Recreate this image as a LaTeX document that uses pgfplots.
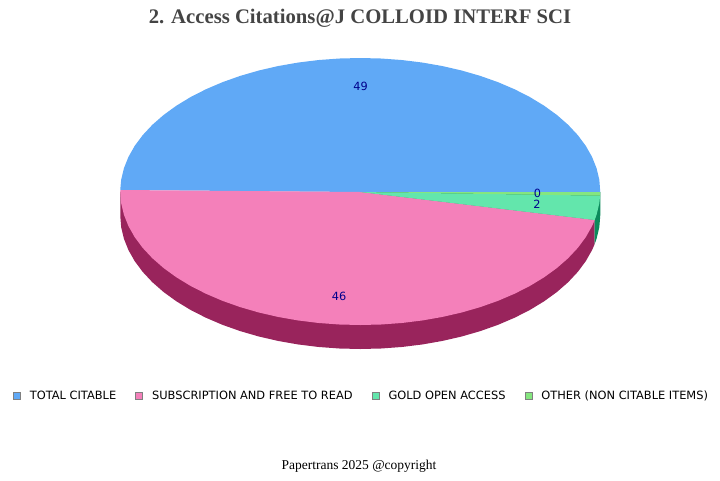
\documentclass[border=0pt]{standalone}
\usepackage{pgfplots}
\pgfplotsset{compat=1.18}
\usepackage{fontspec}
\setmainfont{DejaVu Sans}
\newfontfamily\serifx{Liberation Serif}
\definecolor{cblue}{HTML}{60A9F6}
\definecolor{cpink}{HTML}{F480BA}
\definecolor{cgreen}{HTML}{63E6AC}
\definecolor{clight}{HTML}{85E67F}
\definecolor{dpink}{HTML}{99245C}
\definecolor{dgreen}{HTML}{0C8A5C}
\definecolor{ctitle}{HTML}{444444}
\begin{document}
\begin{tikzpicture}[x=1pt,y=1pt]
\useasboundingbox (0,0) rectangle (720,480);
\begin{axis}[
  at={(0,0)},anchor=south west,
  width=720pt,height=480pt,scale only axis,
  xmin=0,xmax=720,ymin=0,ymax=480,y dir=reverse,
  axis lines=none,clip=false,
  legend columns=4,
  legend style={at={(axis cs:361.5,396)},anchor=center,draw=none,fill=none,
    font=\fontsize{11.4}{13}\selectfont,text=black,inner sep=0pt,
    /tikz/every odd column/.append style={column sep=7pt},
    /tikz/every even column/.append style={column sep=17pt}},
  legend image code/.code={\draw[#1,draw=gray,line width=0.9pt] (0.5pt,-3.6pt) rectangle (7.5pt,3.4pt);},
]
% side walls
\addplot[draw=none,fill=dpink,forget plot] coordinates {
(360.25,192)(120.25,191.5)(120.25,215.5)(121.16,227.14)(123.9,238.68)(128.43,250.05)(134.72,261.16)(142.74,271.92)(152.4,282.25)(163.65,292.07)(176.4,301.31)(190.54,309.9)(205.98,317.77)(222.59,324.86)(240.25,331.12)(258.82,336.49)(278.17,340.95)(298.13,344.45)(318.57,346.97)(339.33,348.49)(360.25,349)(381.17,348.49)(401.93,346.97)(422.37,344.45)(442.33,340.95)(461.68,336.49)(480.25,331.12)(497.91,324.86)(514.52,317.77)(529.96,309.9)(544.1,301.31)(556.85,292.07)(568.1,282.25)(577.76,271.92)(585.78,261.16)(592.07,250.05)(594.7,244)(594.7,220)} -- cycle;
\addplot[draw=none,fill=dgreen,forget plot] coordinates {
(360.25,192)(594.7,220)(594.7,244)(596.6,238.68)(599.34,227.14)(600.25,215.5)(600.25,192)} -- cycle;
% top faces
\addplot[draw=none,fill=cblue] coordinates {
(360.25,192)(600.25,192)(599.34,179.86)(596.6,168.32)(592.07,156.95)(585.78,145.84)(577.76,135.08)(568.1,124.75)(556.85,114.93)(544.1,105.69)(529.96,97.1)(514.52,89.23)(497.91,82.14)(480.25,75.88)(461.68,70.51)(442.33,66.05)(422.37,62.55)(401.93,60.03)(381.17,58.51)(360.25,58)(339.33,58.51)(318.57,60.03)(298.13,62.55)(278.17,66.05)(258.82,70.51)(240.25,75.88)(222.59,82.14)(205.98,89.23)(190.54,97.1)(176.4,105.69)(163.65,114.93)(152.4,124.75)(142.74,135.08)(134.72,145.84)(128.43,156.95)(123.9,168.32)(121.16,179.86)(120.25,190)} -- cycle;
\addlegendentry{TOTAL CITABLE}
\addplot[draw=none,fill=cpink] coordinates {
(360.25,192)(120.25,190)(121.16,203.14)(123.9,214.68)(128.43,226.05)(134.72,237.16)(142.74,247.92)(152.4,258.25)(163.65,268.07)(176.4,277.31)(190.54,285.9)(205.98,293.77)(222.59,300.86)(240.25,307.12)(258.82,312.49)(278.17,316.95)(298.13,320.45)(318.57,322.97)(339.33,324.49)(360.25,325)(381.17,324.49)(401.93,322.97)(422.37,320.45)(442.33,316.95)(461.68,312.49)(480.25,307.12)(497.91,300.86)(514.52,293.77)(529.96,285.9)(544.1,277.31)(556.85,268.07)(568.1,258.25)(577.76,247.92)(585.78,237.16)(592.07,226.05)(594.7,220)} -- cycle;
\addlegendentry{SUBSCRIPTION AND FREE TO READ}
\addplot[draw=none,fill=cgreen] coordinates {
(360.25,192)(594.7,220)(596.6,214.68)(599.34,203.14)(600.1,195.7)} -- cycle;
\addlegendentry{GOLD OPEN ACCESS}
\addplot[draw=none,fill=clight] coordinates {
(360.25,192)(600.1,195.7)(600.25,192)} -- cycle;
\addlegendentry{OTHER (NON CITABLE ITEMS)}
% data labels
\begin{scope}[every node/.style={font=\fontsize{11.3}{13}\selectfont,text=blue!55!black,inner sep=0pt}]
\node at (axis cs:360.5,86.5) {49};
\node at (axis cs:339,296.5) {46};
\node at (axis cs:537.5,193.5) {0};
\node at (axis cs:537,204.5) {2};
\end{scope}
\node[font=\serifx\bfseries\fontsize{20.7}{24}\selectfont,text=ctitle,inner sep=0pt] at (axis cs:360,18.5) {2. Access Citations@J COLLOID INTERF SCI};
\node[font=\serifx\fontsize{13.5}{15}\selectfont,text=black,inner sep=0pt] at (axis cs:359,466) {Papertrans 2025 @copyright};
\end{axis}
\end{tikzpicture}
\end{document}
